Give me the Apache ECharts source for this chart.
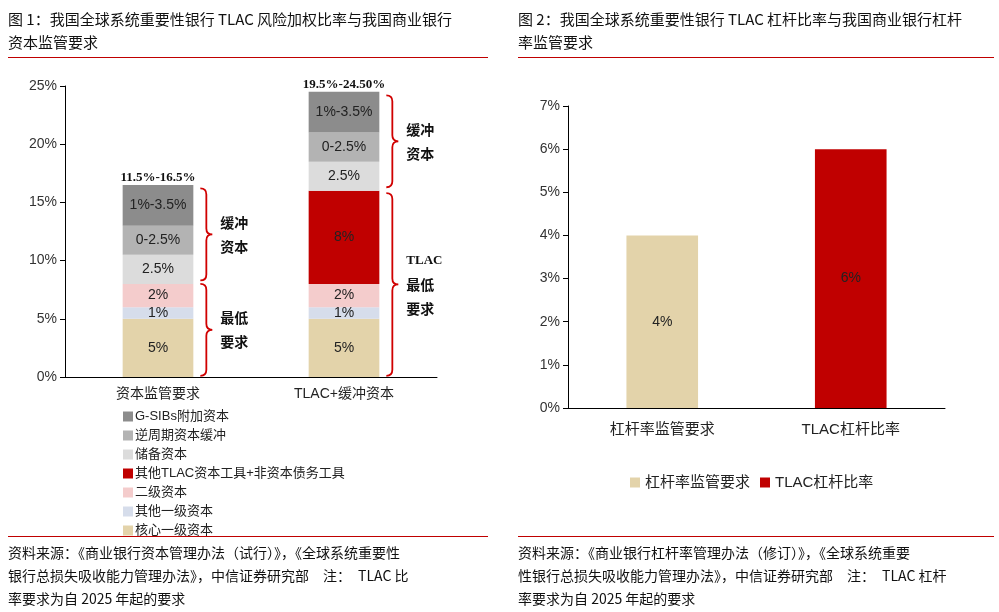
<!DOCTYPE html><html><head><meta charset="utf-8">
<script src="https://cdn.jsdelivr.net/npm/echarts@6/dist/echarts.min.js"></script>
<style>body{margin:0}#c{width:999px;height:612px}</style></head><body><div id="c"></div>
<script>
const cats1=['资本监管要求','TLAC+缓冲资本'];
const names1=['核心一级资本','其他一级资本','二级资本','其他TLAC资本工具+非资本债务工具','储备资本','逆周期资本缓冲','G-SIBs附加资本'];
const vals1=[[5,5],[1,1],[2,2],['-',8],[2.5,2.5],[2.5,2.5],[3.5,3.5]];
const labels1=[['5%','5%'],['1%','1%'],['2%','2%'],['','8%'],['2.5%','2.5%'],['0-2.5%','0-2.5%'],['1%-3.5%','1%-3.5%']];
const colors1=['#E3D3AA','#D6DDEB','#F4CCCC','#C00000','#DCDCDC','#B3B3B3','#8C8C8C'];
const totals1=[[0,16.5,'11.5%-16.5%'],[1,24.5,'19.5%-24.50%']];
const braces1=[[0,0.1,8,'最低\n要求'],[0,8.3,16.2,'缓冲\n资本'],[1,0.1,15.8,'{t|TLAC}\n最低\n要求'],[1,16.3,24.2,'缓冲\n资本']];
const cats2=['杠杆率监管要求','TLAC杠杆比率'];
const vals2=[4,6];
const colors2=['#E3D3AA','#C00000'];
const yTicks1=[0,5,10,15,20,25], yTicks2=[0,1,2,3,4,5,6,7];

const F='"Liberation Sans","Noto Sans CJK SC",sans-serif';
const ch=echarts.init(document.getElementById('c'));
const series=names1.map((n,i)=>({type:'bar',name:n,stack:'a',xAxisIndex:0,yAxisIndex:0,barWidth:'38%',
 itemStyle:{color:colors1[i]},data:vals1[i],
 label:{show:true,color:'#222',fontSize:14,fontFamily:F,formatter:p=>labels1[i][p.dataIndex]}}));
series.push({type:'custom',xAxisIndex:0,yAxisIndex:0,data:totals1,z:10,
 renderItem:(params,api)=>{const p=api.coord([api.value(0),api.value(1)]);
  return {type:'text',style:{text:totals1[params.dataIndex][2],x:p[0],y:p[1]-1,align:'center',verticalAlign:'bottom',
   font:'bold 13px "Liberation Serif",serif',fill:'#111'}};}});
series.push({type:'custom',xAxisIndex:0,yAxisIndex:0,data:braces1,z:10,
 renderItem:(params,api)=>{const c=api.value(0);const a=api.coord([c,api.value(1)]),b=api.coord([c,api.value(2)]);
  const cw=api.size([1,0])[0];const x=a[0]+0.19*cw+7;const top=b[1],bot=a[1],mid=(top+bot)/2,w=6,r=6;
  const d=`M${x},${top} Q${x+w},${top} ${x+w},${top+r} L${x+w},${mid-r} Q${x+w},${mid} ${x+2*w},${mid} Q${x+w},${mid} ${x+w},${mid+r} L${x+w},${bot-r} Q${x+w},${bot} ${x},${bot}`;
  return {type:'group',children:[
   {type:'path',shape:{pathData:d},style:{fill:null,stroke:'#D00000',lineWidth:1.8}},
   {type:'text',style:{text:braces1[params.dataIndex][3],x:x+20,y:mid,verticalAlign:'middle',align:'left',
    font:'bold 14px "Noto Sans CJK SC",sans-serif',fill:'#111',lineHeight:24,
    rich:{t:{font:'bold 13px "Liberation Serif",serif',fill:'#111',lineHeight:24}}}}]};}});
series.push({type:'bar',name:'杠杆率监管要求',xAxisIndex:1,yAxisIndex:1,barWidth:'38%',stack:'b',
 data:[vals2[0],'-'],itemStyle:{color:colors2[0]},label:{show:true,color:'#222',fontSize:14,fontFamily:F,formatter:p=>p.value+'%'}});
series.push({type:'bar',name:'TLAC杠杆比率',xAxisIndex:1,yAxisIndex:1,barWidth:'38%',stack:'b',
 data:['-',vals2[1]],itemStyle:{color:colors2[1]},label:{show:true,color:'#222',fontSize:14,fontFamily:F,formatter:p=>p.value+'%'}});

const axisCommon={axisLine:{show:true,lineStyle:{color:'#000'}},axisTick:{show:true,lineStyle:{color:'#000'}},splitLine:{show:false},
 axisLabel:{color:'#333',fontSize:14,fontFamily:F,formatter:'{value}%'}};
const foot1='资料来源：《商业银行资本管理办法（试行）》，《全球系统重要性\n银行总损失吸收能力管理办法》，中信证券研究部　注：　TLAC 比\n率要求为自 2025 年起的要求';
const foot2='资料来源：《商业银行杠杆率管理办法（修订）》，《全球系统重要\n性银行总损失吸收能力管理办法》，中信证券研究部　注：　TLAC 杠杆\n率要求为自 2025 年起的要求';
const tf='15px "Noto Sans CJK SC",sans-serif';
ch.setOption({animation:false,backgroundColor:'#fff',
 grid:[{left:65,top:86,width:372,height:291},{left:568,top:106,width:377,height:302}],
 xAxis:[{type:'category',data:cats1,gridIndex:0,axisLine:{lineStyle:{color:'#000'}},axisTick:{show:false},axisLabel:{color:'#222',fontSize:14,fontFamily:F,margin:10}},
        {type:'category',data:cats2,gridIndex:1,axisLine:{lineStyle:{color:'#000'}},axisTick:{show:false},axisLabel:{color:'#222',fontSize:15,fontFamily:F,margin:14}}],
 yAxis:[Object.assign({type:'value',gridIndex:0,min:0,max:25,interval:5},axisCommon),
        Object.assign({type:'value',gridIndex:1,min:0,max:7,interval:1},axisCommon)],
 legend:[{data:names1.slice().reverse(),orient:'vertical',left:118,top:405,itemWidth:10,itemHeight:10,itemGap:6,icon:'rect',
   textStyle:{fontSize:13,fontFamily:F,color:'#222',padding:[0,0,0,-3]}},
  {data:['杠杆率监管要求','TLAC杠杆比率'],left:625,top:470,itemWidth:10,itemHeight:10,itemGap:10,icon:'rect',
   textStyle:{fontSize:15,fontFamily:F,color:'#222'}}],
 graphic:[
  {type:'text',left:8,top:8,style:{text:'图 1：我国全球系统重要性银行 TLAC 风险加权比率与我国商业银行\n资本监管要求',font:tf,fill:'#111',lineHeight:23}},
  {type:'text',left:518,top:8,style:{text:'图 2：我国全球系统重要性银行 TLAC 杠杆比率与我国商业银行杠杆\n率监管要求',font:tf,fill:'#111',lineHeight:23}},
  {type:'rect',shape:{x:8,y:57,width:480,height:1},style:{fill:'#C00000'}},
  {type:'rect',shape:{x:518,y:57,width:476,height:1},style:{fill:'#C00000'}},
  {type:'rect',shape:{x:8,y:536,width:480,height:1},style:{fill:'#C00000'}},
  {type:'rect',shape:{x:518,y:536,width:476,height:1},style:{fill:'#C00000'}},
  {type:'text',left:8,top:541,style:{text:foot1,font:'14px "Noto Sans CJK SC",sans-serif',fill:'#111',lineHeight:23}},
  {type:'text',left:518,top:541,style:{text:foot2,font:'14px "Noto Sans CJK SC",sans-serif',fill:'#111',lineHeight:23}}],
 series});
</script></body></html>
